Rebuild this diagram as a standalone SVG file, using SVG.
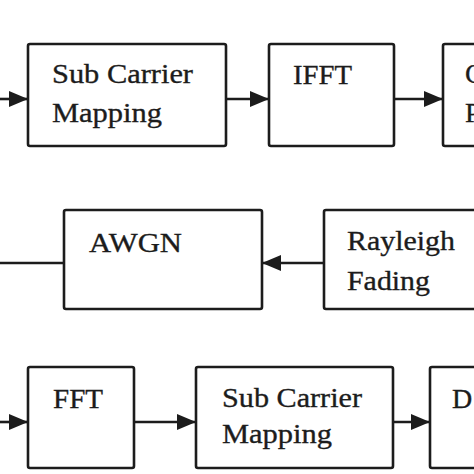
<svg xmlns="http://www.w3.org/2000/svg" width="474" height="474" viewBox="0 0 474 474">
<style>
.box{fill:#fff;stroke:#1c1c1c;stroke-width:2.6}
.t{font-family:"Liberation Serif","Times New Roman",serif;font-size:28px;fill:#1c1c1c;stroke:#1c1c1c;stroke-width:0.35}
.c{stroke:#1c1c1c;stroke-width:2.6;fill:none}
</style>
<defs>
<marker id="ah" markerWidth="19" markerHeight="16" refX="19" refY="8" orient="auto" markerUnits="userSpaceOnUse">
<path d="M0,0 L19,8 L0,16 Z" fill="#1c1c1c"/>
</marker>
</defs>
<rect width="474" height="474" fill="#fff"/>
<g id="connectors">
<line class="c" x1="0" y1="99" x2="28" y2="99" marker-end="url(#ah)"/>
<line class="c" x1="226" y1="99" x2="269" y2="99" marker-end="url(#ah)"/>
<line class="c" x1="394" y1="99" x2="443" y2="99" marker-end="url(#ah)"/>
<line class="c" x1="324" y1="263" x2="262" y2="263" marker-end="url(#ah)"/>
<line class="c" x1="0" y1="263" x2="64" y2="263"/>
<line class="c" x1="0" y1="422" x2="28" y2="422" marker-end="url(#ah)"/>
<line class="c" x1="134" y1="422" x2="196" y2="422" marker-end="url(#ah)"/>
<line class="c" x1="393" y1="422" x2="430" y2="422" marker-end="url(#ah)"/>
</g>
<g id="tx-mapping">
<rect class="box" x="28" y="44" width="198" height="102" rx="2"/>
<text class="t" x="52" y="83" textLength="141" lengthAdjust="spacingAndGlyphs">Sub Carrier</text>
<text class="t" x="52" y="122" textLength="110" lengthAdjust="spacingAndGlyphs">Mapping</text>
</g>
<g id="ifft">
<rect class="box" x="269" y="44" width="125" height="102" rx="2"/>
<text class="t" x="293" y="84" textLength="59" lengthAdjust="spacingAndGlyphs">IFFT</text>
</g>
<g id="cyclic-prefix">
<rect class="box" x="443" y="44" width="60" height="102" rx="2"/>
<text class="t" x="465" y="83">Cyclic</text>
<text class="t" x="465" y="122">Prefix</text>
</g>
<g id="awgn">
<rect class="box" x="64" y="210" width="198" height="99" rx="2"/>
<text class="t" x="89" y="252" textLength="93" lengthAdjust="spacingAndGlyphs">AWGN</text>
</g>
<g id="rayleigh">
<rect class="box" x="324" y="210" width="180" height="99" rx="2"/>
<text class="t" x="347" y="250" textLength="108" lengthAdjust="spacingAndGlyphs">Rayleigh</text>
<text class="t" x="347" y="290" textLength="83" lengthAdjust="spacingAndGlyphs">Fading</text>
</g>
<g id="fft">
<rect class="box" x="28" y="367" width="106" height="101" rx="2"/>
<text class="t" x="53" y="408" textLength="50" lengthAdjust="spacingAndGlyphs">FFT</text>
</g>
<g id="rx-mapping">
<rect class="box" x="196" y="367" width="197" height="101" rx="2"/>
<text class="t" x="222" y="407" textLength="140" lengthAdjust="spacingAndGlyphs">Sub Carrier</text>
<text class="t" x="222" y="443" textLength="110" lengthAdjust="spacingAndGlyphs">Mapping</text>
</g>
<g id="demod">
<rect class="box" x="430" y="367" width="70" height="101" rx="2"/>
<text class="t" x="452" y="408">D</text>
</g>
</svg>
